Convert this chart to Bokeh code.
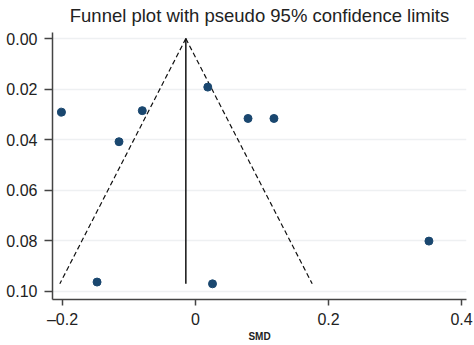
from bokeh.plotting import figure
from bokeh.models import Range1d, FixedTicker, NumeralTickFormatter
from bokeh.embed import file_html
from bokeh.resources import INLINE

# Study estimates (standardised mean difference) and their standard errors
smd = [-0.2015, -0.080, 0.0185, 0.079, 0.118, -0.115, 0.351, -0.148, 0.0256]
se = [0.0291, 0.0285, 0.0192, 0.0316, 0.0316, 0.0408, 0.0801, 0.0963, 0.0970]

# Pooled estimate line and pseudo 95% confidence limits (endpoints)
pooled_x = [-0.0145, -0.0145]
pooled_y = [0.0, 0.097]
left_limit_x = [-0.0145, -0.204]
right_limit_x = [-0.0145, 0.1755]
limit_y = [0.0, 0.097]

x_ticks = [-0.2, 0, 0.2, 0.4]
x_tick_labels = {-0.2: "\u20130.2", 0: "0", 0.2: "0.2", 0.4: "0.4"}
y_ticks = [0.0, 0.02, 0.04, 0.06, 0.08, 0.10]

FONT = "Liberation Sans"
TXT = "#222222"
AX = "#444444"

p = figure(width=474, height=345, output_backend="svg", toolbar_location=None,
           x_range=Range1d(-0.215, 0.4075), y_range=Range1d(0.1032, -0.0024),
           min_border_left=52, min_border_right=8, min_border_top=32, min_border_bottom=46,
           title="Funnel plot with pseudo 95% confidence limits")
p.outline_line_color = None
p.background_fill_color = "white"

p.title.align = "center"
p.title.vertical_align = "top"
p.title.text_font = FONT
p.title.text_font_size = "18.5px"
p.title.text_font_style = "normal"
p.title.text_color = TXT
p.title.standoff = 9

# axes
for ax in (p.xaxis[0], p.yaxis[0]):
    ax.axis_line_color = AX
    ax.axis_line_width = 1.5
    ax.major_tick_line_color = AX
    ax.major_tick_line_width = 1.5
    ax.minor_tick_line_color = None
    ax.major_tick_in = 0
    ax.major_label_text_font = FONT
    ax.major_label_text_font_size = "16px"
    ax.major_label_text_color = TXT

p.xaxis.ticker = FixedTicker(ticks=x_ticks)
p.xaxis.major_label_overrides = x_tick_labels
p.xaxis.major_tick_out = 6
p.xaxis.major_label_standoff = 5
p.xaxis.axis_label = "SMD"
p.xaxis.axis_label_text_font = FONT
p.xaxis.axis_label_text_font_size = "10px"
p.xaxis.axis_label_text_font_style = "bold"
p.xaxis.axis_label_text_color = TXT
p.xaxis.axis_label_standoff = 0

p.yaxis.ticker = FixedTicker(ticks=y_ticks)
p.yaxis.formatter = NumeralTickFormatter(format="0.00")
p.yaxis.major_tick_out = 8
p.yaxis.major_label_standoff = 7

p.xgrid.grid_line_color = None
p.ygrid.grid_line_color = "#eef0f2"
p.ygrid.grid_line_width = 1.5

# funnel
p.line(left_limit_x, limit_y, line_color="#111111", line_width=1.2, line_dash="5 3")
p.line(right_limit_x, limit_y, line_color="#111111", line_width=1.2, line_dash="5 3")
p.line(pooled_x, pooled_y, line_color="#111111", line_width=1.5)

# studies
p.scatter(smd, se, size=8, fill_color="#1a476f", line_color="#1a476f")

open("out.html", "w").write(file_html(p, INLINE))
